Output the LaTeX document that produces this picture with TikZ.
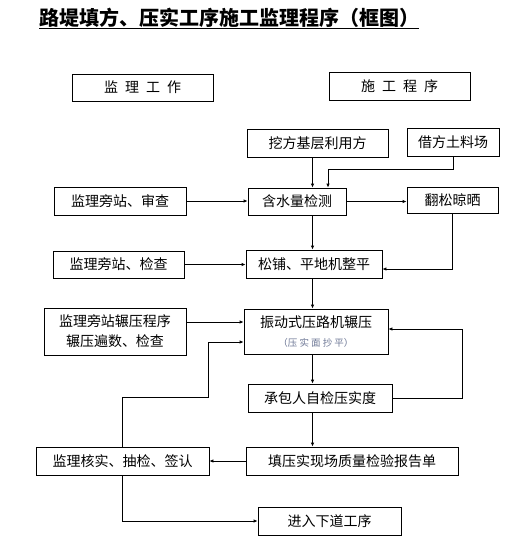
\documentclass[tikz,border=0pt]{standalone}
\usepackage{fontspec}
\newfontfamily\cjk{Noto Sans CJK SC}
\usepackage{tikz}
\usetikzlibrary{arrows.meta}
\tikzset{>={Latex[length=4pt,width=3.5pt]}}
\definecolor{notegray}{RGB}{110,120,150}
\tikzstyle{box} = [draw, line width=0.8pt, minimum height=28pt, inner sep=0pt,
    align=center, font=\cjk\fontsize{14}{20}\selectfont]
\tikzstyle{link} = [->, line width=0.8pt]

\begin{document}
\begin{tikzpicture}[x=1pt,y=-1pt]
\useasboundingbox (0,0) rectangle (507,544);
\begin{scope}
    %title
    \node[anchor=base west, inner sep=0pt, font=\cjk\bfseries\fontsize{20}{22}\selectfont]
        (title) at (39,25) {路堤填方、压实工序施工监理程序（框图）};
    \draw[line width=0.8pt] ([yshift=-3pt]title.base west) -- ([yshift=-3pt]title.base east);
    %heads
    \node[box, minimum width=141pt, minimum height=27pt] (head1) at (142.5,87.5) {监\enspace 理\enspace 工\enspace 作};
    \node[box, minimum width=141pt] (head2) at (399.5,86) {施\enspace 工\enspace 程\enspace 序};
    %boxes
    \node[box, minimum width=141pt] (wafang) at (317.5,143) {挖方基层利用方};
    \node[box, minimum width=92pt] (jiefang) at (453,142) {借方土料场};
    \node[box, minimum width=98pt, minimum height=27pt] (hanshui) at (297,201.5) {含水量检测};
    \node[box, minimum width=91pt, minimum height=26pt] (fansong) at (452.5,200) {翻松晾晒};
    \node[box, minimum width=136pt] (songpu) at (314,264) {松铺、平地机整平};
    \node[box, minimum width=132pt] (shencha) at (120,201) {监理旁站、审查};
    \node[box, minimum width=131pt, minimum height=27pt] (jiancha) at (118.5,264.5) {监理旁站、检查};
    \node[box, minimum width=142pt, minimum height=47pt] (nianya) at (115,331.5) {监理旁站辗压程序\\辗压遍数、检查};
    \node[box, minimum width=144pt, minimum height=45pt] (zhendong) at (316,331.5)
        {振动式压路机辗压\\[-1pt]{\color{notegray}\fontsize{9.5}{10}\selectfont （压 实 面 抄 平）}};
    \node[box, minimum width=144pt] (chengbao) at (320,398) {承包人自检压实度};
    \node[box, minimum width=212pt] (tianya) at (352,461) {填压实现场质量检验报告单};
    \node[box, minimum width=173pt] (heshi) at (122.5,461) {监理核实、抽检、签认};
    \node[box, minimum width=143pt] (jinru) at (329.5,521) {进入下道工序};
    %bends
    \coordinate (axis) at (312.5,0);
    \coordinate (j1) at (328,169);
    \coordinate (h1) at (208,397);
    \coordinate (r1) at (462,0);
    %arrows
    \draw[link] (wafang.south -| axis) -- (hanshui.north -| axis);
    \draw[link] (jiefang.south) |- (j1) -- (j1 |- hanshui.north);
    \draw[link] (hanshui.east) -- (hanshui.east -| fansong.west);
    \draw[link] (fansong.south) |- ([yshift=-5pt]songpu.east);
    \draw[link] (shencha.east) -- (shencha.east -| hanshui.west);
    \draw[link] (jiancha.east) -- (jiancha.east -| songpu.west);
    \draw[link] (hanshui.south -| axis) -- (songpu.north -| axis);
    \draw[link] (songpu.south -| axis) -- (zhendong.north -| axis);
    \draw[link] ([yshift=9.5pt]nianya.east) -- ([yshift=9.5pt]nianya.east -| zhendong.west);
    \draw[link] (heshi.north) |- (h1) |- ([yshift=-10.5pt]zhendong.west);
    \draw[link] (zhendong.south -| axis) -- (chengbao.north -| axis);
    \draw[link] (chengbao.east) -| ([yshift=2.5pt]zhendong.east -| r1) -- ([yshift=2.5pt]zhendong.east);
    \draw[link] (chengbao.south -| axis) -- (tianya.north -| axis);
    \draw[link] (tianya.west) -- (heshi.east);
    \draw[link] (heshi.south) |- (jinru.west);
\end{scope}
\end{tikzpicture}
\end{document}
